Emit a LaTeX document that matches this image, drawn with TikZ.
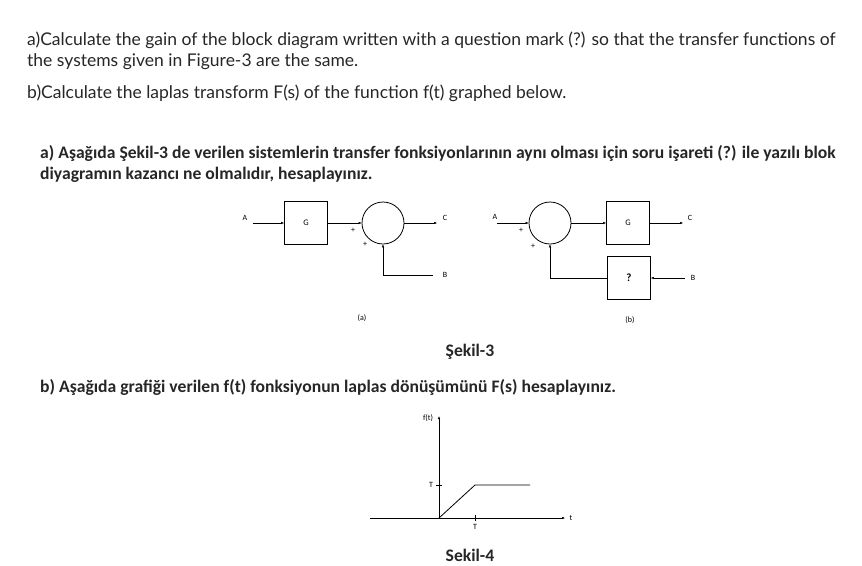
\documentclass[tikz,border=0pt]{standalone}
\usepackage{fontspec}
\setmainfont{Lato}
\newfontfamily\calfont{Carlito}
\usetikzlibrary{arrows.meta}
\begin{document}
\begin{tikzpicture}[x=1pt,y=-1pt,
 txt/.style={anchor=west,inner sep=0pt,text=black!85,font=\fontsize{17.5}{19}\selectfont},
 tk/.style={font=\calfont\bfseries\fontsize{17.6}{19}\selectfont,anchor=west,inner sep=0pt,text=black!85},
 blk/.style={draw,thick,minimum width=43pt,minimum height=43pt,inner sep=0pt,font=\calfont\fontsize{8.5}{9}\selectfont},
 sumc/.style={draw,thick,circle,minimum size=42pt,inner sep=0pt},
 lb/.style={font=\calfont\fontsize{8}{9}\selectfont,inner sep=1pt},
 ar/.style={-{Latex[length=3pt,width=2.5pt]},thin},
 ln/.style={thin}]
\useasboundingbox (0,0) rectangle (862,565);
\node[txt] (t1) at (27,40) {a)Calculate the gain of the block diagram written with a question mark (?) so that the transfer functions of};
\node[txt] (t2) at (27,62) {the systems given in Figure-3 are the same.};
\node[txt] (t3) at (27,93) {b)Calculate the laplas transform F(s) of the function f(t) graphed below.};
\node[tk] (k1) at (40,153) {a) Aşağıda Şekil-3 de verilen sistemlerin transfer fonksiyonlarının aynı olması için soru işareti (?) ile yazılı blok};
\node[tk] (k2) at (40,175) {diyagramın kazancı ne olmalıdır, hesaplayınız.};
% (a)
\node[lb] (Aa) at (245,218) {A};
\coordinate (Aas) at (253,223);
\node[blk] (Ga) at (306,223) {G};
\node[sumc] (Sa) at (383,223) {};
\coordinate (Cae) at (437,223);
\node[lb] (Ca) at (445,218) {C};
\coordinate (Bas) at (433,275);
\node[lb] (Ba) at (445,275) {B};
\draw[ar] (Aas) -- (Ga.west);
\draw[ar] (Ga.east) -- (Sa.west);
\draw[ar] (Sa.east) -- (Cae);
\draw[ar] (Bas) -| (Sa.south);
\node[lb] (pa1) at (353,230) {+};
\node[lb] (pa2) at (365,244) {+};
\node[lb] (la) at (362,318) {(a)};
% (b)
\node[lb] (Ab) at (495,217) {A};
\coordinate (Abs) at (497,223);
\node[sumc] (Sb) at (550,223) {};
\node[blk] (Gb) at (628,223) {G};
\coordinate (Cbe) at (683,223);
\node[lb] (Cb) at (690,218) {C};
\node[blk,font=\calfont\bfseries\fontsize{11}{12}\selectfont] (Q) at (629,278) {?};
\coordinate (Bbs) at (685,278);
\node[lb] (Bb) at (693,278) {B};
\draw[ar] (Abs) -- (Sb.west);
\draw[ar] (Sb.east) -- (Gb.west);
\draw[ar] (Gb.east) -- (Cbe);
\draw[ar] (Bbs) -- (Q.east);
\draw[ar] (Q.west) -| (Sb.south);
\node[lb] (pb1) at (521,230) {+};
\node[lb] (pb2) at (533,246) {+};
\node[lb] (lbb) at (630,320) {(b)};
\node[tk,anchor=center] (s3) at (470,352) {Şekil-3};
\node[tk] (k3) at (40,387) {b) Aşağıda grafiği verilen f(t) fonksiyonun laplas dönüşümünü F(s) hesaplayınız.};
% graph
\coordinate (O) at (439,518);
\coordinate (Yt) at (439,416);
\coordinate (Xl) at (370,518);
\coordinate (Xr) at (565,518);
\coordinate (K) at (475,485);
\coordinate (E) at (530,485);
\draw[thick] (Xl) -- (O);
\draw[ar] (O) -- (Xr);
\draw[ar,thick] (O) -- (Yt);
\draw[thick] (O) -- (K) -- (E);
\draw[ln] (436,485) -- (442,485);
\draw[ln] (475,515) -- (475,521);
\node[lb] (ft) at (428,418) {f(t)};
\node[lb] (ty) at (431,485) {T};
\node[lb] (tx) at (475,527) {T};
\node[lb] (tt) at (571,518) {t};
\node[tk,anchor=center] (s4) at (470,555) {Sekil-4};
\end{tikzpicture}
\end{document}
